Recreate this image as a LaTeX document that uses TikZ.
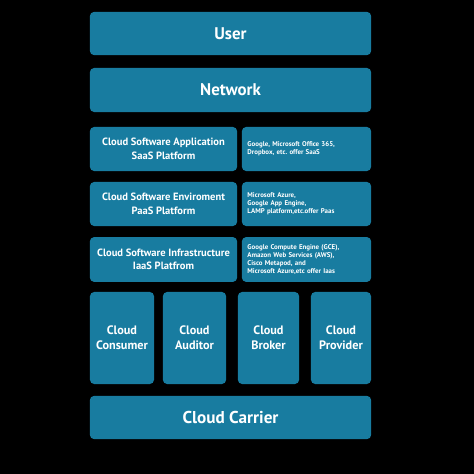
\documentclass[tikz,border=0pt]{standalone}
\usepackage{fontspec}
\setmainfont{PT Sans}
\definecolor{Night}{HTML}{000000}
\definecolor{Layer}{HTML}{187CA0}
\definecolor{Label}{HTML}{FFFFFF}

\begin{document}
\begin{tikzpicture}[x=0.025cm,y=-0.025cm,
  layer/.style={fill=Layer, rounded corners=3pt, text=Label, inner sep=0pt, align=center, font=\bfseries},
  note/.style={layer, align=left, text width=2.95cm, font=\bfseries\fontsize{4.9}{5.6}\selectfont}]
\fill[Night] (0,0) rectangle (474,474);
\node[layer, minimum width=7.03cm, minimum height=1.08cm, font=\bfseries\fontsize{12}{14}\selectfont] (user) at (230.5,33.5){User};
\node[layer, minimum width=7.03cm, minimum height=1.1cm, font=\bfseries\fontsize{12}{14}\selectfont] (network) at (230.5,90){Network};
% service models
\node[layer, minimum width=3.68cm, minimum height=1.1cm, font=\bfseries\fontsize{7.5}{9.6}\selectfont] (saas) at (163.5,149){Cloud Software Application\\SaaS Platform};
\node[note, minimum width=3.23cm, minimum height=1.1cm] (saasnote) at (306.5,149){Google, Microsoft Office 365,\\Dropbox, etc.\ offer SaaS};
\node[layer, minimum width=3.68cm, minimum height=1.1cm, font=\bfseries\fontsize{7.5}{9.6}\selectfont] (paas) at (163.5,204){Cloud Software Enviroment\\PaaS Platform};
\node[note, minimum width=3.23cm, minimum height=1.1cm] (paasnote) at (306.5,204){Microsoft Azure,\\Google App Engine,\\LAMP platform,etc.offer Paas};
\node[layer, minimum width=3.68cm, minimum height=1.12cm, font=\bfseries\fontsize{7.5}{9.6}\selectfont] (iaas) at (163.5,259.5){Cloud Software Infrastructure\\IaaS Platfrom};
\node[note, minimum width=3.23cm, minimum height=1.12cm] (iaasnote) at (306.5,259.5){Google Compute Engine (GCE),\\Amazon Web Services (AWS),\\Cisco Metapod, and\\Microsoft Azure,etc offer Iaas};
% actors
\node[layer, minimum width=1.6cm, minimum height=2.3cm, font=\bfseries\fontsize{8.7}{10.7}\selectfont] (consumer) at (122,338){Cloud\\Consumer};
\node[layer, minimum width=1.58cm, minimum height=2.3cm, font=\bfseries\fontsize{8.7}{10.7}\selectfont] (auditor) at (194.5,338){Cloud\\Auditor};
\node[layer, minimum width=1.53cm, minimum height=2.3cm, font=\bfseries\fontsize{8.7}{10.7}\selectfont] (broker) at (268.5,338){Cloud\\Broker};
\node[layer, minimum width=1.5cm, minimum height=2.3cm, font=\bfseries\fontsize{8.7}{10.7}\selectfont] (provider) at (341,338){Cloud\\Provider};
\node[layer, minimum width=7.03cm, minimum height=1.08cm, font=\bfseries\fontsize{12.2}{14}\selectfont] (carrier) at (230.5,417.5){Cloud Carrier};
\end{tikzpicture}
\end{document}
